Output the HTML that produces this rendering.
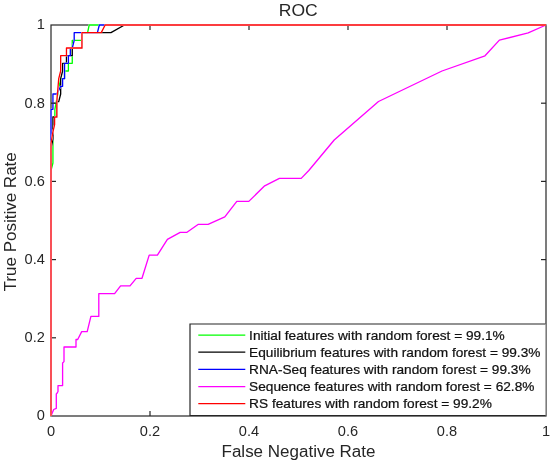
<!DOCTYPE html>
<html><head><meta charset="utf-8"><title>ROC</title>
<style>
html,body{margin:0;padding:0;background:#fff;}
body{width:550px;height:466px;overflow:hidden;}
svg{display:block;}
text{font-family:"Liberation Sans",Arial,Helvetica,sans-serif;fill:#262626;}
.tk{font-size:14.6px;}
.lb{font-size:16px;}
.lg{font-size:12.7px;fill:#111;stroke:#111;stroke-width:0.22px;}
</style></head><body>
<svg width="550" height="466" viewBox="0 0 550 466">
<rect x="0" y="0" width="550" height="466" fill="#ffffff"/>
<g stroke="#262626" stroke-width="1.2" fill="none">
<rect x="51" y="25" width="495" height="391"/>
<line x1="150" y1="416" x2="150" y2="411"/>
<line x1="150" y1="25" x2="150" y2="30"/>
<line x1="51" y1="337.8" x2="56" y2="337.8"/>
<line x1="249" y1="416" x2="249" y2="411"/>
<line x1="249" y1="25" x2="249" y2="30"/>
<line x1="51" y1="259.6" x2="56" y2="259.6"/>
<line x1="546" y1="259.6" x2="541" y2="259.6"/>
<line x1="348" y1="416" x2="348" y2="411"/>
<line x1="348" y1="25" x2="348" y2="30"/>
<line x1="51" y1="181.39999999999998" x2="56" y2="181.39999999999998"/>
<line x1="546" y1="181.39999999999998" x2="541" y2="181.39999999999998"/>
<line x1="447" y1="416" x2="447" y2="411"/>
<line x1="447" y1="25" x2="447" y2="30"/>
<line x1="51" y1="103.19999999999999" x2="56" y2="103.19999999999999"/>
<line x1="546" y1="103.19999999999999" x2="541" y2="103.19999999999999"/>
</g>
<text class="tk" x="51.0" y="436" text-anchor="middle">0</text>
<text class="tk" x="44.9" y="420.4" text-anchor="end">0</text>
<text class="tk" x="150.0" y="436" text-anchor="middle">0.2</text>
<text class="tk" x="44.9" y="342.2" text-anchor="end">0.2</text>
<text class="tk" x="249.0" y="436" text-anchor="middle">0.4</text>
<text class="tk" x="44.9" y="264.0" text-anchor="end">0.4</text>
<text class="tk" x="348.0" y="436" text-anchor="middle">0.6</text>
<text class="tk" x="44.9" y="185.8" text-anchor="end">0.6</text>
<text class="tk" x="447.0" y="436" text-anchor="middle">0.8</text>
<text class="tk" x="44.9" y="107.6" text-anchor="end">0.8</text>
<text class="tk" x="546.0" y="436" text-anchor="middle">1</text>
<text class="tk" x="44.9" y="29.4" text-anchor="end">1</text>
<polyline points="51.00,416.00 51.00,170.67 52.93,163.00 52.93,117.00 54.87,117.00 54.87,109.33 60.67,78.67 62.60,78.67 64.54,78.67 64.54,71.00 68.40,71.00 68.40,63.33 72.27,63.33 72.27,40.33 81.94,40.33 81.94,32.67 87.60,32.67 89.20,25.00 546.00,25.00" fill="none" stroke="#ffffff" stroke-width="1.32" stroke-linejoin="round"/><polyline points="51.00,416.00 51.00,170.67 52.93,163.00 52.93,117.00 54.87,117.00 54.87,109.33 60.67,78.67 62.60,78.67 64.54,78.67 64.54,71.00 68.40,71.00 68.40,63.33 72.27,63.33 72.27,40.33 81.94,40.33 81.94,32.67 87.60,32.67 89.20,25.00 546.00,25.00" fill="none" stroke="#ffffff" stroke-width="1.32" stroke-linejoin="round"/><polyline points="51.00,416.00 51.00,170.67 52.93,163.00 52.93,117.00 54.87,117.00 54.87,109.33 60.67,78.67 62.60,78.67 64.54,78.67 64.54,71.00 68.40,71.00 68.40,63.33 72.27,63.33 72.27,40.33 81.94,40.33 81.94,32.67 87.60,32.67 89.20,25.00 546.00,25.00" fill="none" stroke="#00ff00" stroke-width="1.32" stroke-linejoin="round" />
<polyline points="51.00,416.00 51.00,149.00 52.93,139.00 52.93,117.00 56.80,117.00 56.80,101.67 58.73,101.67 60.67,94.00 60.67,78.67 62.60,71.00 62.60,63.33 66.47,63.33 66.47,55.67 72.27,55.67 72.27,48.00 81.94,48.00 81.94,32.67 110.94,32.67 124.48,25.00 546.00,25.00" fill="none" stroke="#ffffff" stroke-width="1.32" stroke-linejoin="round"/><polyline points="51.00,416.00 51.00,149.00 52.93,139.00 52.93,117.00 56.80,117.00 56.80,101.67 58.73,101.67 60.67,94.00 60.67,78.67 62.60,71.00 62.60,63.33 66.47,63.33 66.47,55.67 72.27,55.67 72.27,48.00 81.94,48.00 81.94,32.67 110.94,32.67 124.48,25.00 546.00,25.00" fill="none" stroke="#ffffff" stroke-width="1.32" stroke-linejoin="round"/><polyline points="51.00,416.00 51.00,149.00 52.93,139.00 52.93,117.00 56.80,117.00 56.80,101.67 58.73,101.67 60.67,94.00 60.67,78.67 62.60,71.00 62.60,63.33 66.47,63.33 66.47,55.67 72.27,55.67 72.27,48.00 81.94,48.00 81.94,32.67 110.94,32.67 124.48,25.00 546.00,25.00" fill="none" stroke="#000000" stroke-width="1.32" stroke-linejoin="round" />
<polyline points="51.00,416.00 51.00,109.33 52.93,109.33 52.93,94.00 56.80,94.00 60.67,86.33 62.60,86.33 62.60,78.67 64.54,78.67 64.54,63.33 68.40,63.33 68.40,55.67 70.34,55.67 70.34,48.00 72.27,48.00 74.20,40.33 74.20,32.67 97.41,32.67 99.34,25.00 546.00,25.00" fill="none" stroke="#ffffff" stroke-width="1.32" stroke-linejoin="round"/><polyline points="51.00,416.00 51.00,109.33 52.93,109.33 52.93,94.00 56.80,94.00 60.67,86.33 62.60,86.33 62.60,78.67 64.54,78.67 64.54,63.33 68.40,63.33 68.40,55.67 70.34,55.67 70.34,48.00 72.27,48.00 74.20,40.33 74.20,32.67 97.41,32.67 99.34,25.00 546.00,25.00" fill="none" stroke="#ffffff" stroke-width="1.32" stroke-linejoin="round"/><polyline points="51.00,416.00 51.00,109.33 52.93,109.33 52.93,94.00 56.80,94.00 60.67,86.33 62.60,86.33 62.60,78.67 64.54,78.67 64.54,63.33 68.40,63.33 68.40,55.67 70.34,55.67 70.34,48.00 72.27,48.00 74.20,40.33 74.20,32.67 97.41,32.67 99.34,25.00 546.00,25.00" fill="none" stroke="#0000ff" stroke-width="1.32" stroke-linejoin="round" />
<polyline points="51.00,416.00 53.70,409.50 56.30,408.40 56.30,394.00 57.20,393.00 58.00,391.50 58.00,385.60 62.60,385.60 62.60,363.00 64.00,361.60 64.00,347.00 76.00,347.00 76.00,339.50 77.70,339.50 81.70,331.60 87.20,331.60 90.90,316.40 98.80,316.40 98.80,293.60 114.60,293.60 120.60,285.80 130.00,285.80 136.20,278.30 142.00,278.30 149.20,255.10 157.40,255.10 167.40,239.40 180.20,232.30 187.00,232.30 198.40,224.30 208.10,224.30 224.80,216.90 236.80,201.40 248.80,201.40 264.70,185.80 279.40,178.40 301.20,178.40 308.80,170.50 334.20,140.00 378.50,101.50 442.00,71.00 485.00,55.80 499.40,40.10 528.20,32.90 546.00,25.00" fill="none" stroke="#ffffff" stroke-width="1.32" stroke-linejoin="round"/><polyline points="51.00,416.00 53.70,409.50 56.30,408.40 56.30,394.00 57.20,393.00 58.00,391.50 58.00,385.60 62.60,385.60 62.60,363.00 64.00,361.60 64.00,347.00 76.00,347.00 76.00,339.50 77.70,339.50 81.70,331.60 87.20,331.60 90.90,316.40 98.80,316.40 98.80,293.60 114.60,293.60 120.60,285.80 130.00,285.80 136.20,278.30 142.00,278.30 149.20,255.10 157.40,255.10 167.40,239.40 180.20,232.30 187.00,232.30 198.40,224.30 208.10,224.30 224.80,216.90 236.80,201.40 248.80,201.40 264.70,185.80 279.40,178.40 301.20,178.40 308.80,170.50 334.20,140.00 378.50,101.50 442.00,71.00 485.00,55.80 499.40,40.10 528.20,32.90 546.00,25.00" fill="none" stroke="#ffffff" stroke-width="1.32" stroke-linejoin="round"/><polyline points="51.00,416.00 53.70,409.50 56.30,408.40 56.30,394.00 57.20,393.00 58.00,391.50 58.00,385.60 62.60,385.60 62.60,363.00 64.00,361.60 64.00,347.00 76.00,347.00 76.00,339.50 77.70,339.50 81.70,331.60 87.20,331.60 90.90,316.40 98.80,316.40 98.80,293.60 114.60,293.60 120.60,285.80 130.00,285.80 136.20,278.30 142.00,278.30 149.20,255.10 157.40,255.10 167.40,239.40 180.20,232.30 187.00,232.30 198.40,224.30 208.10,224.30 224.80,216.90 236.80,201.40 248.80,201.40 264.70,185.80 279.40,178.40 301.20,178.40 308.80,170.50 334.20,140.00 378.50,101.50 442.00,71.00 485.00,55.80 499.40,40.10 528.20,32.90 546.00,25.00" fill="none" stroke="#ff00ff" stroke-width="1.32" stroke-linejoin="round" />
<polyline points="51.00,416.00 51.00,143.50 52.80,132.33 54.60,124.67 54.60,117.00 56.80,117.00 56.80,101.67 58.73,78.67 60.67,71.00 60.67,55.67 66.47,55.67 66.47,48.00 81.94,48.00 81.94,32.67 101.27,32.67 105.14,25.00 546.00,25.00" fill="none" stroke="#ffffff" stroke-width="1.32" stroke-linejoin="round"/><polyline points="51.00,416.00 51.00,143.50 52.80,132.33 54.60,124.67 54.60,117.00 56.80,117.00 56.80,101.67 58.73,78.67 60.67,71.00 60.67,55.67 66.47,55.67 66.47,48.00 81.94,48.00 81.94,32.67 101.27,32.67 105.14,25.00 546.00,25.00" fill="none" stroke="#ffffff" stroke-width="1.32" stroke-linejoin="round"/><polyline points="51.00,416.00 51.00,143.50 52.80,132.33 54.60,124.67 54.60,117.00 56.80,117.00 56.80,101.67 58.73,78.67 60.67,71.00 60.67,55.67 66.47,55.67 66.47,48.00 81.94,48.00 81.94,32.67 101.27,32.67 105.14,25.00 546.00,25.00" fill="none" stroke="#ff0000" stroke-width="1.32" stroke-linejoin="round" />
<line x1="51.6" y1="103.2" x2="56.2" y2="103.2" stroke="#262626" stroke-width="1.2"/>
<rect x="190" y="324" width="355.4" height="91.5" fill="#ffffff"/>
<polyline points="545.4,324 190,324 190,415.5 545.4,415.5" fill="none" stroke="#262626" stroke-width="1.2"/>
<line x1="198.3" y1="335.1" x2="245.3" y2="335.1" stroke="#00ff00" stroke-width="1.32"/>
<text class="lg" transform="translate(249.1,339.6) scale(1.077,1)">Initial features with random forest = 99.1%</text>
<line x1="198.3" y1="352.2" x2="245.3" y2="352.2" stroke="#000000" stroke-width="1.32"/>
<text class="lg" transform="translate(249.1,356.8) scale(1.077,1)">Equilibrium features with random forest = 99.3%</text>
<line x1="198.3" y1="369.4" x2="245.3" y2="369.4" stroke="#0000ff" stroke-width="1.32"/>
<text class="lg" transform="translate(249.1,373.9) scale(1.077,1)">RNA-Seq features with random forest = 99.3%</text>
<line x1="198.3" y1="386.6" x2="245.3" y2="386.6" stroke="#ff00ff" stroke-width="1.32"/>
<text class="lg" transform="translate(249.1,391.1) scale(1.077,1)">Sequence features with random forest = 62.8%</text>
<line x1="198.3" y1="403.7" x2="245.3" y2="403.7" stroke="#ff0000" stroke-width="1.32"/>
<text class="lg" transform="translate(249.1,408.2) scale(1.077,1)">RS features with random forest = 99.2%</text>
<text class="lb" transform="translate(298.2,15.7) scale(1.095,1)" text-anchor="middle">ROC</text>
<text class="lb" transform="translate(298.5,456.8) scale(1.0625,1)" text-anchor="middle">False Negative Rate</text>
<text class="lb" transform="translate(16.3,221.8) rotate(-90) scale(1.0625,1)" text-anchor="middle">True Positive Rate</text>
</svg></body></html>
